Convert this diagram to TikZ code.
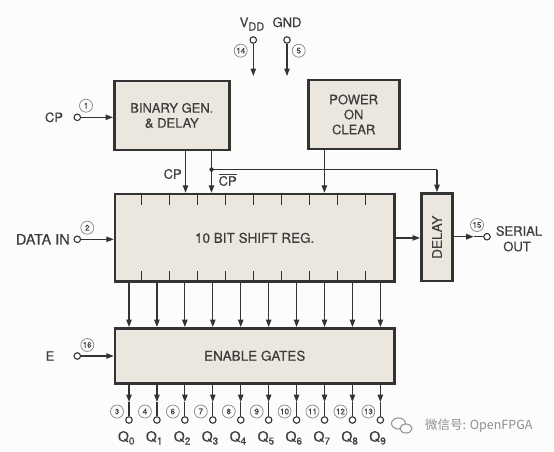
\documentclass[tikz,border=0pt]{standalone}
\usepackage{fontspec}
\setmainfont{TeX Gyre Heros}[FakeBold=0.35]
\newfontfamily\cjk{Noto Sans CJK SC}
\usetikzlibrary{arrows.meta}
\definecolor{ink}{HTML}{333333}
\definecolor{txt}{HTML}{3E3E3E}
\definecolor{boxfill}{HTML}{EBE7DF}
\definecolor{bg}{HTML}{FCFCFA}
\definecolor{ring}{HTML}{858585}
\definecolor{wm}{HTML}{8F8F8F}
\begin{document}
\begin{tikzpicture}[x=1pt,y=-1pt,
  blk/.style={draw=ink, fill=boxfill, line width=2.6pt, inner sep=0pt, align=center, text=txt, font=\fontsize{13}{15}\selectfont},
  wire/.style={draw=ink, line width=1.2pt},
  arr/.style={wire, -{Triangle[length=7.5pt,width=5.5pt]}},
  term/.style={circle, draw=ink, fill=white, line width=1.1pt, minimum size=6.5pt, inner sep=0pt},
  pinnum/.style={circle, draw=ring, line width=0.7pt, minimum size=13pt, inner sep=0pt, text=txt, font=\fontsize{8}{8}\selectfont},
  lab/.style={text=txt, inner sep=0pt, font=\fontsize{13}{15}\selectfont},
]
\fill[bg] (0,0) rectangle (554,451);
\useasboundingbox (0,0) rectangle (554,451);

% blocks
\node[blk, minimum width=115pt, minimum height=69pt] (bin) at (171.8,115.5) {BINARY GEN.\\\& DELAY};
\node[blk, minimum width=91pt, minimum height=69pt] (poc) at (353.7,114.5) {POWER\\ON\\CLEAR};
\node[blk, minimum width=279.3pt, minimum height=87.7pt, font=\fontsize{13.5}{15}\selectfont] (sr) at (254.7,237.9) {10 BIT SHIFT REG.};
\node[blk, minimum width=31.4pt, minimum height=87.7pt] (dl) at (437,237.2) {};
\node[lab, rotate=90, font=\fontsize{13.5}{15}\selectfont] (dlt) at (dl.center) {DELAY};
\node[blk, minimum width=279.3pt, minimum height=55pt, font=\fontsize{13.5}{15}\selectfont] (en) at (254.7,355.8) {ENABLE GATES};

% ticks in shift register
\foreach \k in {1,...,9} {
  \draw[wire] ([xshift={27.93pt*\k}]sr.north west) -- ++(0,12);
  \draw[wire] ([xshift={27.93pt*\k}]sr.south west) -- ++(0,-12);
}

% CP input
\node[term] (cpt) at (77.3,117.3) {};
\node[lab] (cpl) at (54,117.3) {CP};
\node[pinnum] (p1) at (86,105.7) {1};
\draw[arr] (cpt) -- (cpt -| bin.west);

% DATA IN
\node[term] (dit) at (77.3,239.3) {};
\node[lab, anchor=east, font=\fontsize{14.5}{15}\selectfont] (dil) at (70,239.3) {DATA IN};
\node[pinnum] (p2) at (87.3,227.7) {2};
\draw[arr] (dit) -- (dit -| sr.west);

% E
\node[term] (et) at (77.3,356) {};
\node[lab] (el) at (50,356) {E};
\node[pinnum] (p16) at (87.3,345) {16};
\draw[arr] (et) -- (et -| en.west);

% VDD / GND
\node[term] (vdd) at (253.3,40) {};
\coordinate (vddend) at (253.3,76);
\draw[arr] (vdd) -- (vddend);
\node[lab, anchor=base] (vddl) at (252,27) {V\raisebox{-3.5pt}{\fontsize{11}{11}\selectfont DD}};
\node[pinnum] (p14) at (240.7,50.7) {14};
\node[term] (gnd) at (287,40) {};
\coordinate (gndend) at (287,76);
\draw[arr] (gnd) -- (gndend);
\node[lab, anchor=base] (gndl) at (287,27) {GND};
\node[pinnum] (p5) at (298.7,50.7) {5};

% CP and CP-bar
\coordinate (xcp) at (185.5,0);
\coordinate (xcpb) at (211.5,0);
\coordinate (xpoc) at (324.4,0);
\draw[arr] (xcp |- bin.south) -- (xcp |- sr.north);
\node[lab] (cpo) at (172.7,174) {CP};
\draw[arr] (xcpb |- bin.south) -- (xcpb |- sr.north);
\node[lab] (cpbo) at (227.7,180) {$\overline{\hbox{CP}}$};
\coordinate (j) at (211.5,169.5);
\coordinate (dk) at (437,169.5);
\fill[ink] (j) circle (2.2pt);
\draw[wire] (j) -- (dk);
\draw[arr] (dk) -- (dk |- dl.north);
\draw[arr] (xpoc |- poc.south) -- (xpoc |- sr.north);

% shift reg -> delay -> serial out
\draw[arr] (sr.east) -- (sr.east -| dl.west);
\node[term] (so) at (487,236.7) {};
\coordinate (sotip) at (473.7,236.7);
\draw[arr] (dl.east |- so) -- (sotip);
\draw[wire] (sotip) -- (so.west);
\node[pinnum] (p15) at (477,225) {15};
\node[lab] (sol1) at (519,231) {SERIAL};
\node[lab] (sol2) at (517,246.5) {OUT};

% parallel columns
\foreach \i/\n in {0/3,1/4,2/6,3/7,4/8,5/9,6/10,7/11,8/12,9/13} {
  \coordinate (c\i) at ({129+27.93*\i},0);
  \draw[arr] (c\i |- sr.south) -- (c\i |- en.north);
  \node[term] (q\i) at ({129+27.93*\i},420) {};
  \draw[arr] (c\i |- en.south) -- ([yshift=18pt]q\i.center);
  \draw[wire] ([yshift=18pt]q\i.center) -- (q\i.north);
  \node[pinnum] (pq\i) at ({117+27.93*\i},411.5) {\n};
  \node[lab, anchor=base west, font=\fontsize{14}{14}\selectfont] (ql\i) at ({117.8+27.93*\i},441.5) {Q\raisebox{-3pt}{\fontsize{10}{10}\selectfont\i}};
}

% watermark
\draw[wm, line width=1pt] (398.5,423.5) ellipse (7 and 5.5);
\draw[wm, line width=1pt, fill=bg] (406,428.5) ellipse (6 and 4.5);
\node[text=wm, anchor=west, inner sep=0pt, font=\cjk\fontsize{12.5}{13}\selectfont] (wmt) at (425,426) {微信号: OpenFPGA};
\end{tikzpicture}
\end{document}
